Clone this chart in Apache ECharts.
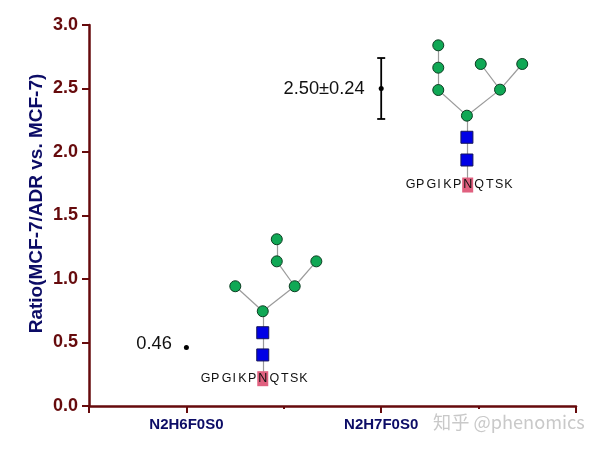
<!DOCTYPE html>
<html>
<head>
<meta charset="utf-8">
<style>html,body{margin:0;padding:0;background:#fff}#main{width:600px;height:450px}</style>
<script src="https://cdn.jsdelivr.net/npm/echarts@6/dist/echarts.min.js"></script>
</head>
<body>
<div id="main"></div>
<script>
var categories = ['N2H6F0S0', 'N2H7F0S0'];
var pointX = [1, 2];
var ratios = [0.46, 2.50];
var errors = [0, 0.24];
var pointLabels = ['0.46', '2.50\u00b10.24'];

// glycan drawings, in axis units
var greenLeft = [[1.464, 1.313], [1.464, 1.139], [1.667, 1.139], [1.556, 0.943], [1.251, 0.943], [1.392, 0.746]];
var blueLeft = [[1.392, 0.577], [1.392, 0.402]];
var stemLeft = [1.392, 0.27];
var greenRight = [[2.293, 2.840], [2.293, 2.664], [2.293, 2.488], [2.511, 2.693], [2.724, 2.693], [2.610, 2.491], [2.440, 2.286]];
var blueRight = [[2.440, 2.116], [2.440, 1.937]];
var stemRight = [2.440, 1.795];
// links between nodes, index into green + blue + stem
var linksLeft = [[0, 1], [1, 3], [2, 3], [3, 5], [4, 5], [5, 6], [6, 7], [7, 8]];
var linksRight = [[0, 1], [1, 2], [2, 6], [3, 5], [4, 5], [5, 6], [6, 7], [7, 8], [8, 9]];

var peptide = 'GPGIKPNQTSK'.split('');
var peptideOffsets = [-0.293, -0.244, -0.186, -0.147, -0.104, -0.054, 0, 0.059, 0.113, 0.161, 0.209];
var peptideSites = [[1.392, 0.215], [2.444, 1.740]];

var darkRed = '#660a0c';
var navy = '#0c0c66';
var fontName = '"Liberation Sans", Arial, sans-serif';

function linkData(nodes, links) {
    return links.map(function (l) {
        return { coords: [nodes[l[0]], nodes[l[1]]] };
    });
}

var allLinks = linkData(greenLeft.concat(blueLeft, [stemLeft]), linksLeft)
    .concat(linkData(greenRight.concat(blueRight, [stemRight]), linksRight));

var letters = [];
peptideSites.forEach(function (site) {
    peptide.forEach(function (ch, i) {
        letters.push({ value: [site[0] + peptideOffsets[i], site[1]], label: { formatter: ch } });
    });
});

var pointData = pointX.map(function (x, i) {
    return {
        value: [x, ratios[i]],
        label: { formatter: pointLabels[i], distance: i == 0 ? 12 : 14, offset: [0, i == 0 ? -4 : 0] }
    };
});

var chart = echarts.init(document.getElementById('main'), null, { renderer: 'canvas' });
chart.setOption({
    animation: false,
    backgroundColor: '#fff',
    grid: { left: 89, right: 24, top: 25, bottom: 44 },
    xAxis: [{
        type: 'value',
        min: 0.5,
        max: 3,
        interval: 0.5,
        splitLine: { show: false },
        axisLine: { lineStyle: { color: darkRed, width: 2.5 } },
        axisTick: { customValues: [0.5, 1, 2, 3], length: 7, lineStyle: { color: darkRed, width: 2 } },
        axisLabel: {
            customValues: [1, 2],
            margin: 11,
            color: navy,
            fontFamily: fontName,
            fontWeight: 'bold',
            fontSize: 15,
            formatter: function (v) { return categories[v - 1]; }
        }
    }, {
        type: 'value',
        position: 'bottom',
        min: 0.5,
        max: 3,
        interval: 0.5,
        splitLine: { show: false },
        axisLine: { show: false },
        axisTick: { customValues: [1.5, 2.5], length: 3, lineStyle: { color: darkRed, width: 2 } },
        axisLabel: { show: false }
    }],
    yAxis: {
        type: 'value',
        min: 0,
        max: 3,
        interval: 0.5,
        name: 'Ratio(MCF-7/ADR vs. MCF-7)',
        nameLocation: 'middle',
        nameRotate: 90,
        nameGap: 43,
        nameMoveOverlap: false,
        nameTextStyle: { color: navy, fontFamily: fontName, fontWeight: 'bold', fontSize: 19, padding: [0, 0, 0, 24] },
        splitLine: { show: false },
        axisLine: { onZero: false, lineStyle: { color: darkRed, width: 2.5 } },
        axisTick: { length: 7, lineStyle: { color: darkRed, width: 2 } },
        axisLabel: {
            margin: 11,
            color: darkRed,
            fontFamily: fontName,
            fontWeight: 'bold',
            fontSize: 18,
            formatter: function (v) { return v.toFixed(1); }
        }
    },
    graphic: [{
        type: 'text',
        left: 433,
        top: 413,
        style: { text: '知乎 @phenomics', fill: '#c9c9c9', fontSize: 18.2, fontFamily: '"Noto Sans CJK SC", "Liberation Sans", sans-serif' }
    }],
    series: [{
        type: 'lines',
        coordinateSystem: 'cartesian2d',
        polyline: false,
        z: 2,
        silent: true,
        lineStyle: { color: '#9a9a9a', width: 1.2, opacity: 1 },
        data: allLinks
    }, {
        type: 'scatter',
        z: 3,
        symbol: 'rect',
        symbolSize: [11, 15],
        itemStyle: { color: '#e0607f', opacity: 1 },
        data: peptideSites
    }, {
        type: 'scatter',
        z: 4,
        symbol: 'circle',
        symbolSize: 11,
        itemStyle: { color: '#10a855', borderColor: '#0d3d22', borderWidth: 1, opacity: 1 },
        data: greenLeft.concat(greenRight)
    }, {
        type: 'scatter',
        z: 4,
        symbol: 'rect',
        symbolSize: 12,
        itemStyle: { color: '#0000e6', borderColor: '#14145a', borderWidth: 1, opacity: 1 },
        data: blueLeft.concat(blueRight)
    }, {
        type: 'scatter',
        z: 5,
        symbolSize: 1,
        itemStyle: { color: 'transparent', opacity: 1 },
        label: { show: true, position: 'inside', color: '#111', fontFamily: fontName, fontSize: 12.5 },
        data: letters
    }, {
        type: 'custom',
        z: 5,
        silent: true,
        data: pointX.map(function (x, i) { return [x, ratios[i], errors[i]]; }),
        renderItem: function (params, api) {
            var e = api.value(2);
            if (!e) return;
            var top = api.coord([api.value(0), api.value(1) + e]);
            var bot = api.coord([api.value(0), api.value(1) - e]);
            var style = { stroke: '#000', lineWidth: 1.8 };
            return {
                type: 'group',
                children: [
                    { type: 'line', shape: { x1: top[0], y1: top[1], x2: bot[0], y2: bot[1] }, style: style },
                    { type: 'line', shape: { x1: top[0] - 4, y1: top[1], x2: top[0] + 4, y2: top[1] }, style: style },
                    { type: 'line', shape: { x1: bot[0] - 4, y1: bot[1], x2: bot[0] + 4, y2: bot[1] }, style: style }
                ]
            };
        }
    }, {
        type: 'scatter',
        z: 6,
        symbol: 'circle',
        symbolSize: 5,
        itemStyle: { color: '#000', opacity: 1 },
        label: { show: true, position: 'left', color: '#111', fontFamily: fontName, fontSize: 18.3 },
        data: pointData
    }]
});
</script>
</body>
</html>
